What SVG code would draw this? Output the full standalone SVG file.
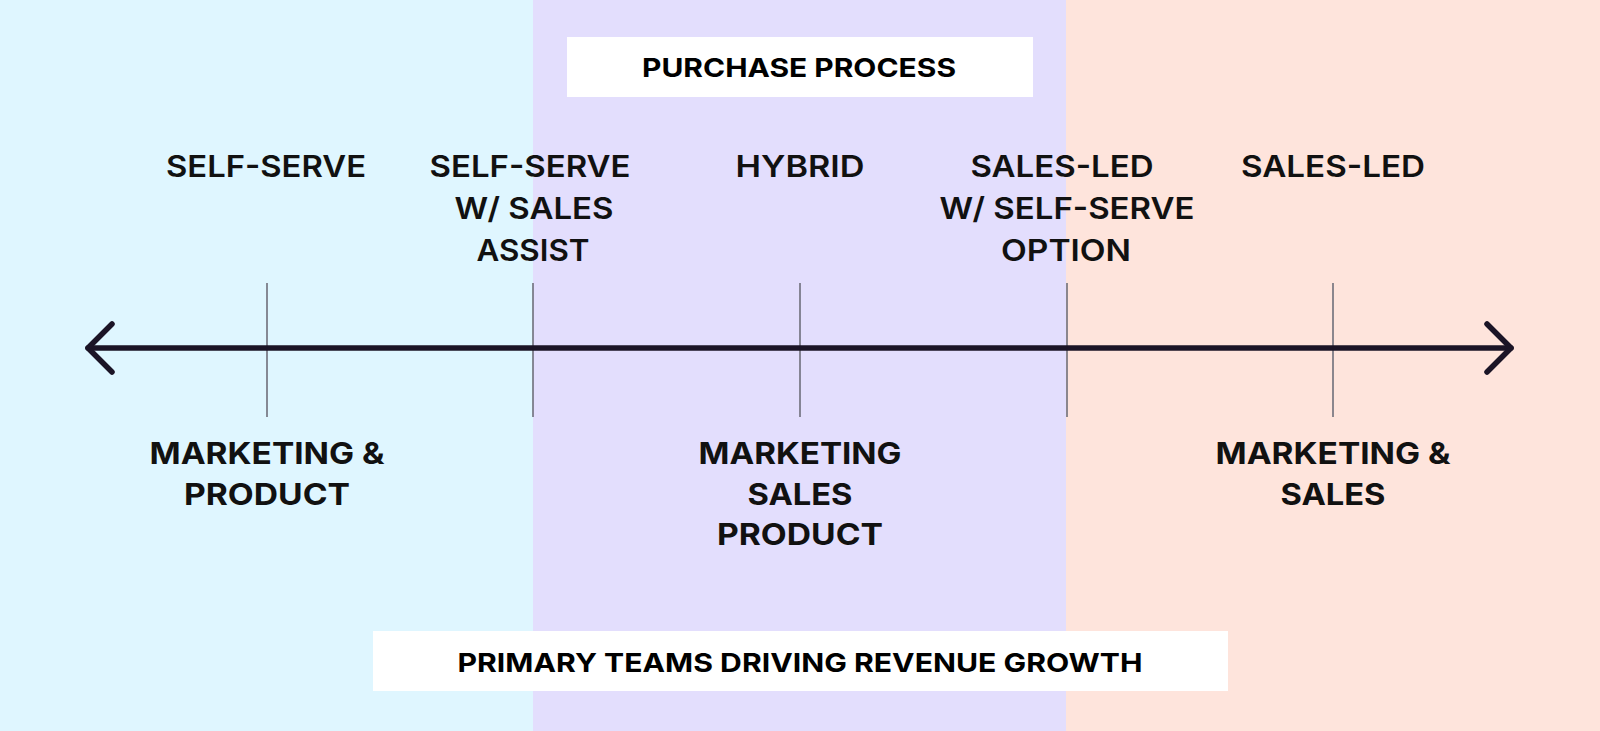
<svg xmlns="http://www.w3.org/2000/svg" width="1600" height="731" viewBox="0 0 1600 731">
<style>
.lbl{font-family:Inter,"Liberation Sans",sans-serif;font-size:30px;font-weight:600;fill:#111;text-anchor:middle}
.team{font-family:Inter,"Liberation Sans",sans-serif;font-size:30px;font-weight:700;fill:#111;text-anchor:middle}
.ttl{font-family:Inter,"Liberation Sans",sans-serif;font-size:26px;font-weight:700;fill:#000;text-anchor:middle}
.tick{stroke:#6e6e7a;stroke-width:1.6}
.axis{stroke:#1b1426;stroke-width:5.5;stroke-linecap:round;stroke-linejoin:round;fill:none}
.box{fill:#fff}
</style>
<g id="background">
<rect x="0" y="0" width="533" height="731" fill="#dff6ff"/>
<rect x="533" y="0" width="533" height="731" fill="#e3defd"/>
<rect x="1066" y="0" width="534" height="731" fill="#fee4dc"/>
</g>
<g id="title-top">
<rect class="box" x="567" y="37" width="466" height="60"/>
<text class="ttl" x="799" y="77" textLength="314" lengthAdjust="spacingAndGlyphs">PURCHASE PROCESS</text>
</g>
<g id="title-bottom">
<rect class="box" x="373" y="631" width="855" height="60"/>
<text class="ttl" x="800" y="672" textLength="685" lengthAdjust="spacingAndGlyphs">PRIMARY TEAMS DRIVING REVENUE GROWTH</text>
</g>
<g id="connectors">
<line class="tick" x1="267" y1="283" x2="267" y2="417"/>
<line class="tick" x1="533" y1="283" x2="533" y2="417"/>
<line class="tick" x1="800" y1="283" x2="800" y2="417"/>
<line class="tick" x1="1067" y1="283" x2="1067" y2="417"/>
<line class="tick" x1="1333" y1="283" x2="1333" y2="417"/>
<path class="axis" d="M88 348 H1511"/>
<path class="axis" d="M112 324 L88 348 L112 372"/>
<path class="axis" d="M1487 324 L1511 348 L1487 372"/>
</g>
<g id="node-self-serve">
<text class="lbl" x="266" y="177" textLength="200" lengthAdjust="spacingAndGlyphs">SELF-SERVE</text>
</g>
<g id="node-self-serve-assist">
<text class="lbl" x="530" y="177" textLength="201" lengthAdjust="spacingAndGlyphs">SELF-SERVE</text>
<text class="lbl" x="534" y="219" textLength="159" lengthAdjust="spacingAndGlyphs">W/ SALES</text>
<text class="lbl" x="533" y="261" textLength="113" lengthAdjust="spacingAndGlyphs">ASSIST</text>
</g>
<g id="node-hybrid">
<text class="lbl" x="800" y="177" textLength="129" lengthAdjust="spacingAndGlyphs">HYBRID</text>
</g>
<g id="node-sales-led-option">
<text class="lbl" x="1062" y="177" textLength="183" lengthAdjust="spacingAndGlyphs">SALES-LED</text>
<text class="lbl" x="1067" y="219" textLength="255" lengthAdjust="spacingAndGlyphs">W/ SELF-SERVE</text>
<text class="lbl" x="1066" y="261" textLength="130" lengthAdjust="spacingAndGlyphs">OPTION</text>
</g>
<g id="node-sales-led">
<text class="lbl" x="1333" y="177" textLength="184" lengthAdjust="spacingAndGlyphs">SALES-LED</text>
</g>
<g id="team-marketing-product">
<text class="team" x="267" y="464" textLength="235" lengthAdjust="spacingAndGlyphs">MARKETING &amp;</text>
<text class="team" x="267" y="505" textLength="166" lengthAdjust="spacingAndGlyphs">PRODUCT</text>
</g>
<g id="team-all">
<text class="team" x="800" y="464" textLength="203" lengthAdjust="spacingAndGlyphs">MARKETING</text>
<text class="team" x="800" y="505" textLength="105" lengthAdjust="spacingAndGlyphs">SALES</text>
<text class="team" x="800" y="545" textLength="166" lengthAdjust="spacingAndGlyphs">PRODUCT</text>
</g>
<g id="team-marketing-sales">
<text class="team" x="1333" y="464" textLength="235" lengthAdjust="spacingAndGlyphs">MARKETING &amp;</text>
<text class="team" x="1333" y="505" textLength="105" lengthAdjust="spacingAndGlyphs">SALES</text>
</g>
</svg>
